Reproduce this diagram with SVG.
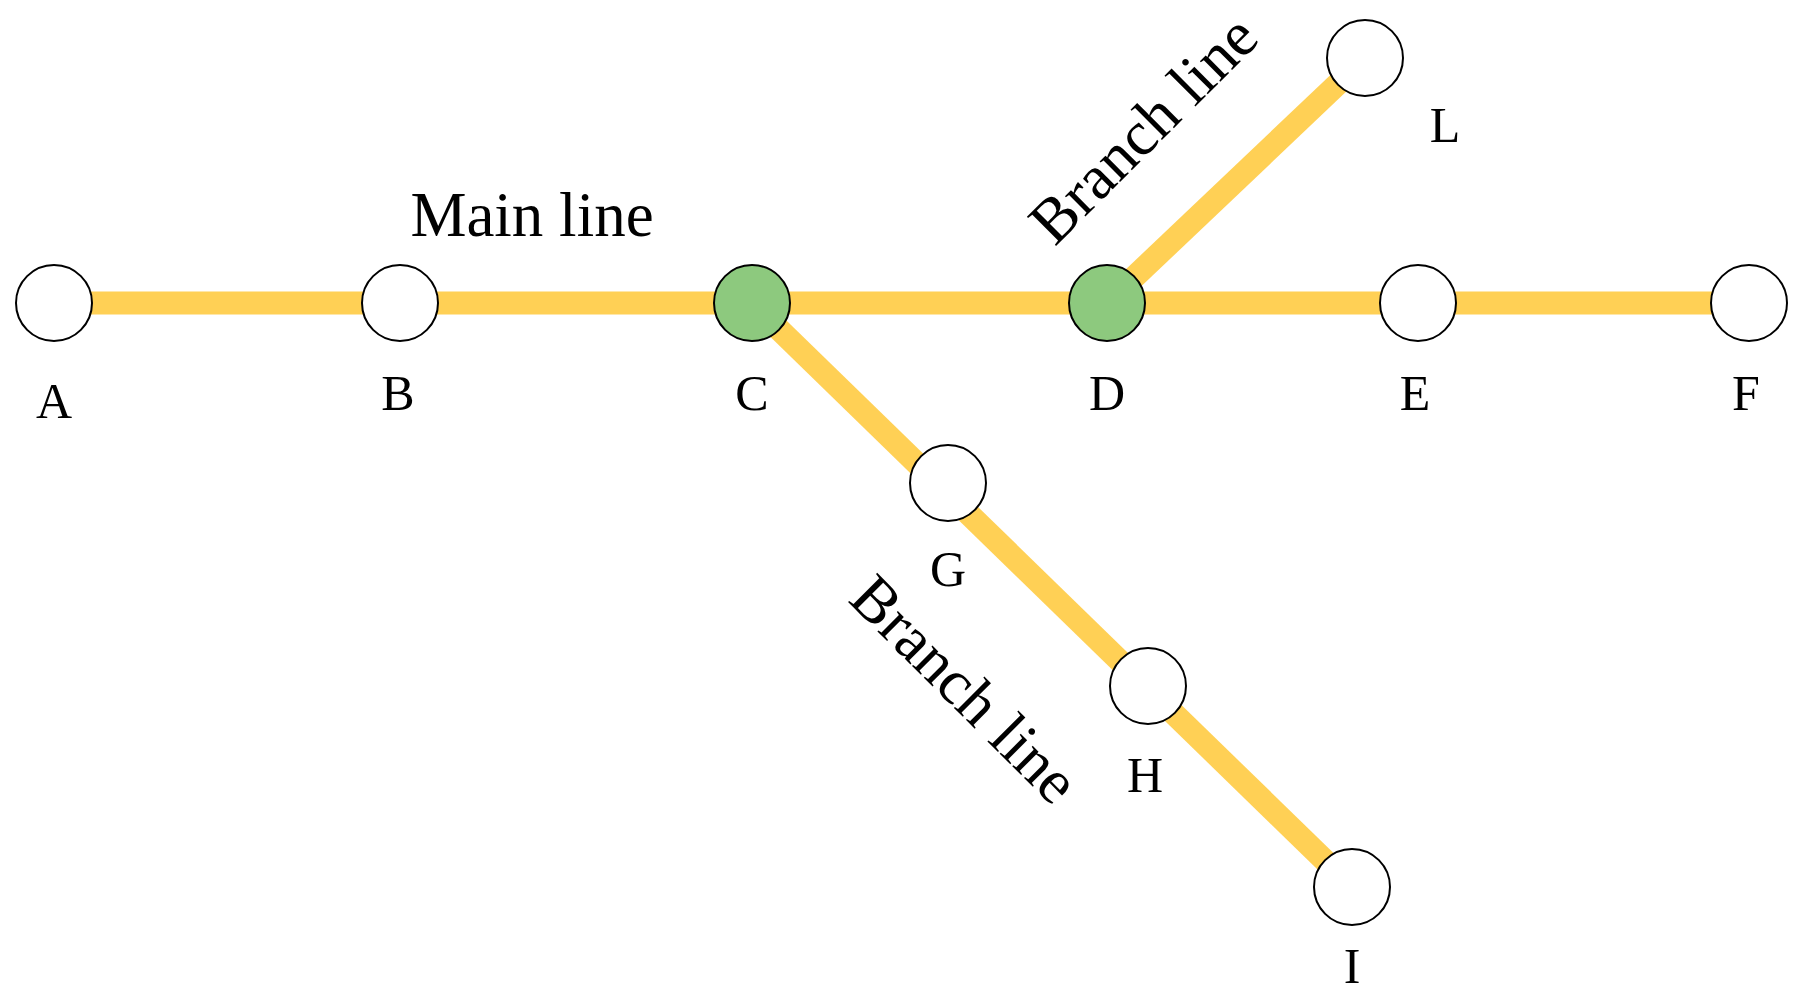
<svg xmlns="http://www.w3.org/2000/svg" width="1803" height="992" viewBox="0 0 1803 992">
<style>
.e{stroke:#FFD055;stroke-width:23;fill:none}
.n{stroke:#000;stroke-width:2;fill:#fff}
.g{fill:#8DC97E}
text{font-family:"Liberation Serif",serif;font-size:50px;fill:#000;text-anchor:middle}
.big{font-size:63px}
</style>
<rect width="1803" height="992" fill="#fff"/>
<g id="connectors" transform="translate(-6,0)">
<line class="e" x1="60" y1="303" x2="1755" y2="303"/>
<line class="e" x1="1113" y1="303" x2="1371" y2="58"/>
<line class="e" x1="758" y1="303" x2="1358" y2="887"/>
</g>
<g transform="translate(-6,0)">
<g id="A"><circle class="n" cx="60" cy="303" r="38"/><text x="60" y="418">A</text></g>
<g id="B"><circle class="n" cx="406" cy="303" r="38"/><text x="404" y="410">B</text></g>
<g id="C"><circle class="n g" cx="758" cy="303" r="38"/><text x="758" y="410">C</text></g>
<g id="D"><circle class="n g" cx="1113" cy="303" r="38"/><text x="1113" y="410">D</text></g>
<g id="E"><circle class="n" cx="1424" cy="303" r="38"/><text x="1421" y="410">E</text></g>
<g id="F"><circle class="n" cx="1755" cy="303" r="38"/><text x="1752" y="410">F</text></g>
<g id="L"><circle class="n" cx="1371" cy="58" r="38"/><text x="1451" y="142">L</text></g>
<g id="G"><circle class="n" cx="954" cy="483" r="38"/><text x="954" y="586">G</text></g>
<g id="H"><circle class="n" cx="1154" cy="686" r="38"/><text x="1151" y="792">H</text></g>
<g id="I"><circle class="n" cx="1358" cy="887" r="38"/><text x="1358" y="983">I</text></g>
</g>
<g id="labels">
<text class="big" x="532" y="236">Main line</text>
<text class="big" transform="translate(1158,144) rotate(-45)">Branch line</text>
<text class="big" transform="translate(950,704) rotate(45)">Branch line</text>
</g>
</svg>
